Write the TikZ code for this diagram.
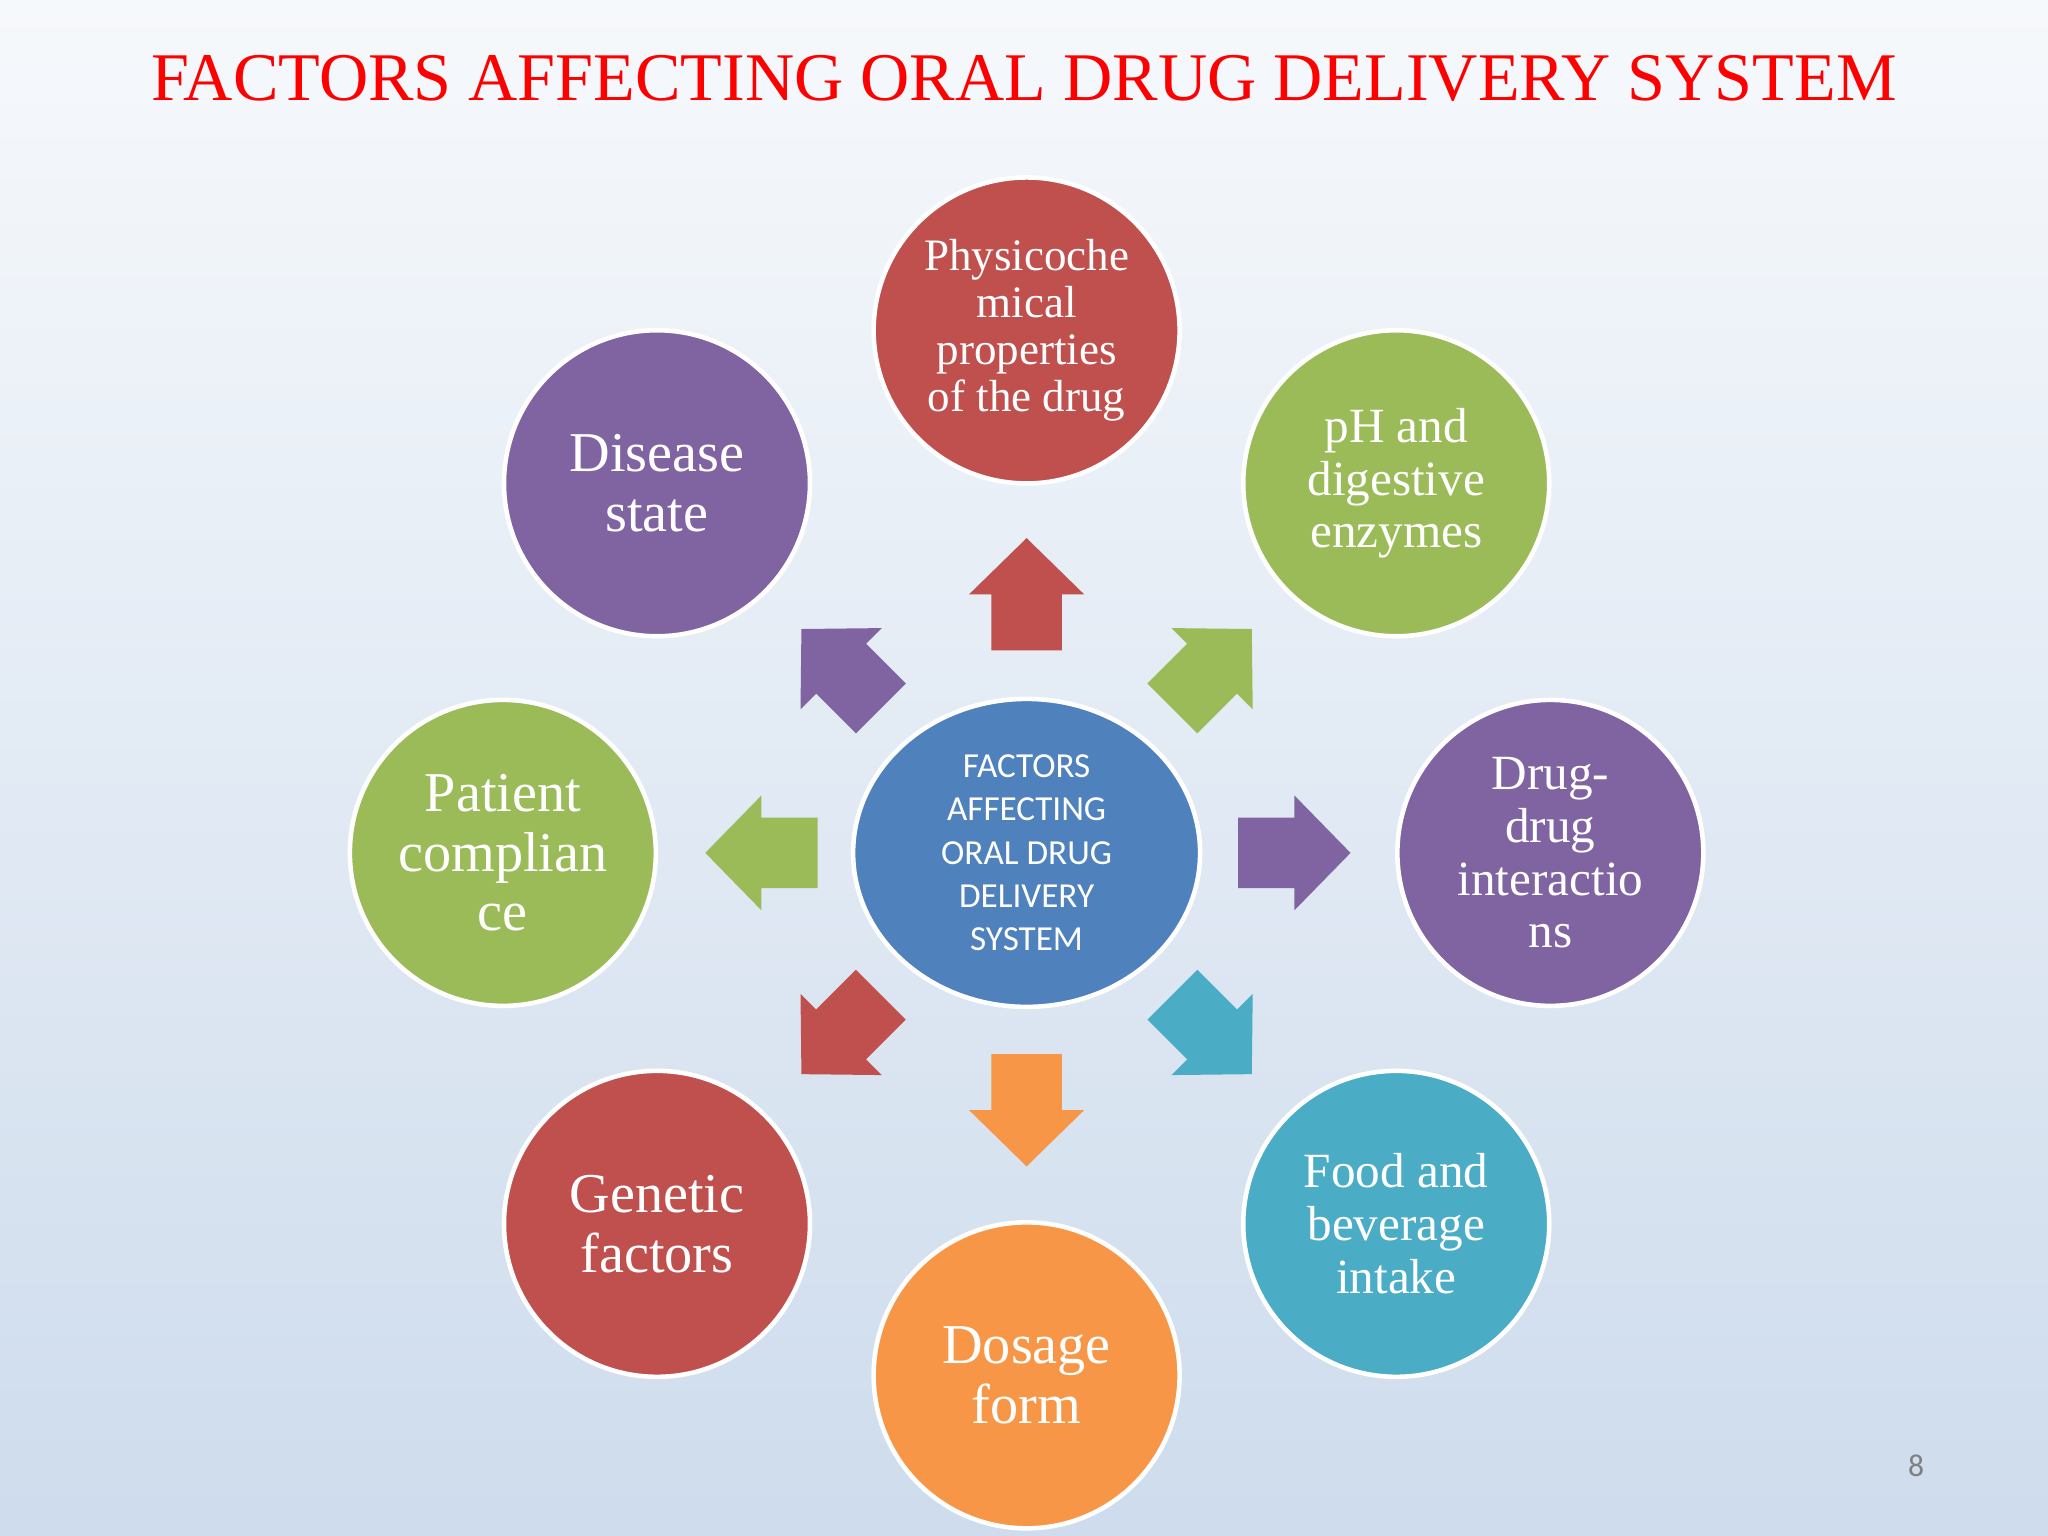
\documentclass[tikz,border=0pt]{standalone}
\usepackage{fontspec}
\setmainfont{Liberation Serif}
\newfontfamily\calib{Carlito}
\usetikzlibrary{shapes.geometric}
\definecolor{cred}{HTML}{C0504D}
\definecolor{cgreen}{HTML}{9BBB59}
\definecolor{cpurple}{HTML}{8064A2}
\definecolor{caqua}{HTML}{4BACC6}
\definecolor{corange}{HTML}{F79646}
\definecolor{cblue}{HTML}{4F81BD}
\begin{document}
\begin{tikzpicture}[x=0.01306cm,y=-0.01306cm,
 big/.style={font=\fontsize{16}{17}\selectfont},
 fc/.style={circle,minimum size=3.06cm,draw=white,line width=1.3pt,align=center,text=white,inner sep=0pt,fill=#1},
 pics/barrow/.style={code={\fill[#1] (-43,-27)--(0,-27)--(0,-44)--(43,0)--(0,44)--(0,27)--(-43,27)--cycle;}}]
\shade[top color=white!95!cblue,middle color=cblue!45!white,bottom color=cblue!28!white] (0,0) rectangle (1568,1176);
\useasboundingbox (0,0) rectangle (1568,1176);
\node[text=red,font=\fontsize{19.4}{21}\selectfont] (title) at (784,60) {FACTORS AFFECTING ORAL DRUG DELIVERY SYSTEM};
\node[fc=cblue,ellipse,minimum width=3.47cm,minimum height=3.08cm,font=\calib\fontsize{10}{12.3}\selectfont] (c) at (786,653) {FACTORS\\AFFECTING\\ORAL DRUG\\DELIVERY\\SYSTEM};
\node[fc=cred,font=\fontsize{12.8}{13.4}\selectfont] (phys) at (786,253) {Physicoche\\mical\\properties\\of the drug};
\node[fc=cgreen,font=\fontsize{14}{15}\selectfont] (ph) at (1069,370) {pH and\\digestive\\enzymes};
\node[fc=cpurple,font=\fontsize{14}{15}\selectfont] (dd) at (1187,653) {Drug-\\drug\\interactio\\ns};
\node[fc=caqua,font=\fontsize{14}{15}\selectfont] (food) at (1069,937) {Food and\\beverage\\intake};
\node[fc=corange,big] (dos) at (786,1053) {Dosage\\form};
\node[fc=cred,big] (gen) at (503,937) {Genetic\\factors};
\node[fc=cgreen,big] (pat) at (385,653) {Patient\\complian\\ce};
\node[fc=cpurple,big] (dis) at (503,370) {Disease\\state};
\pic[rotate=90] at (786,455) {barrow=cred};
\pic[rotate=45] at (928,512) {barrow=cgreen};
\pic at (991,653) {barrow=cpurple};
\pic[rotate=-45] at (928,792) {barrow=caqua};
\pic[rotate=-90] at (786,850) {barrow=corange};
\pic[rotate=-135] at (644,792) {barrow=cred};
\pic[rotate=180] at (583,653) {barrow=cgreen};
\pic[rotate=135] at (644,512) {barrow=cpurple};
\node[text=gray,font=\calib\fontsize{9}{10}\selectfont] (pg) at (1467,1122) {8};
\end{tikzpicture}
\end{document}
